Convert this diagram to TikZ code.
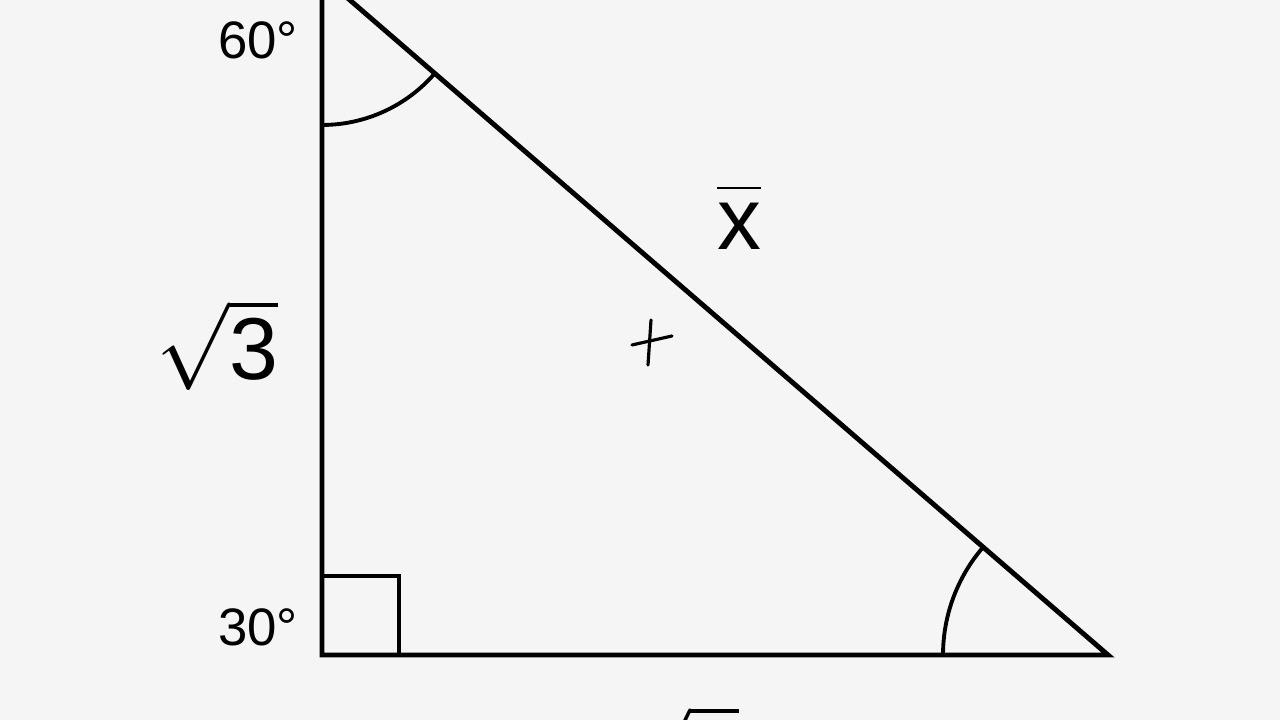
\documentclass[tikz,border=0pt]{standalone}
\usepackage{fontspec}
\setmainfont{Liberation Sans}
\usetikzlibrary{positioning}
\begin{document}
\begin{tikzpicture}[side/.style={line width=1.4pt,line join=miter},
  anglearc/.style={line width=1.1pt},
  rightbox/.style={line width=1.1pt},
  tick/.style={line width=0.9pt,line cap=round},
  small/.style={font=\fontsize{15}{18}\selectfont,inner sep=0pt},
  big/.style={font=\fontsize{25}{30}\selectfont,inner sep=0pt}]
  \fill[black!4] (0,0) rectangle (12.8,7.2);
  \useasboundingbox (0,0) rectangle (12.8,7.2);
  \clip (0,0) rectangle (12.8,7.2);

  % corners of the triangle
  \coordinate (A) at (3.22,7.44);
  \coordinate (B) at (3.22,0.65);
  \coordinate (C) at (11.08,0.65);
  \draw[side] (A)--(B)--(C)--cycle;

  % right angle and angle arcs
  \draw[rightbox] ([yshift=0.79cm]B) -| ([xshift=0.77cm]B);
  \draw[anglearc] ([yshift=-1.49cm]A) arc[start angle=-90,end angle=-40.8,radius=1.49];
  \draw[anglearc] ([xshift=-1.65cm]C) arc[start angle=180,end angle=139.2,radius=1.65];

  % labels
  \node[small] (a60) at (2.58,6.8) {60°};
  \node[small] (a30) at (2.58,0.93) {30°};
  \node[big] (leg) at (2.17,3.75) {$\sqrt{\hbox{3}}$};
  \node[big] (hyp) at (7.39,5.02) {$\overline{\rule{0pt}{\dimexpr1ex+3pt}\hbox{x}}$};
  \node[big] (base) at (6.78,-0.31) {$\sqrt{\hbox{3}}$};

  % centre mark
  \coordinate (ctr) at (6.50,3.78);
  \draw[tick] ([shift={(0.01,0.22)}]ctr) -- ([shift={(-0.02,-0.23)}]ctr);
  \draw[tick] ([shift={(-0.18,-0.03)}]ctr) -- ([shift={(0.22,0.06)}]ctr);
\end{tikzpicture}
\end{document}
